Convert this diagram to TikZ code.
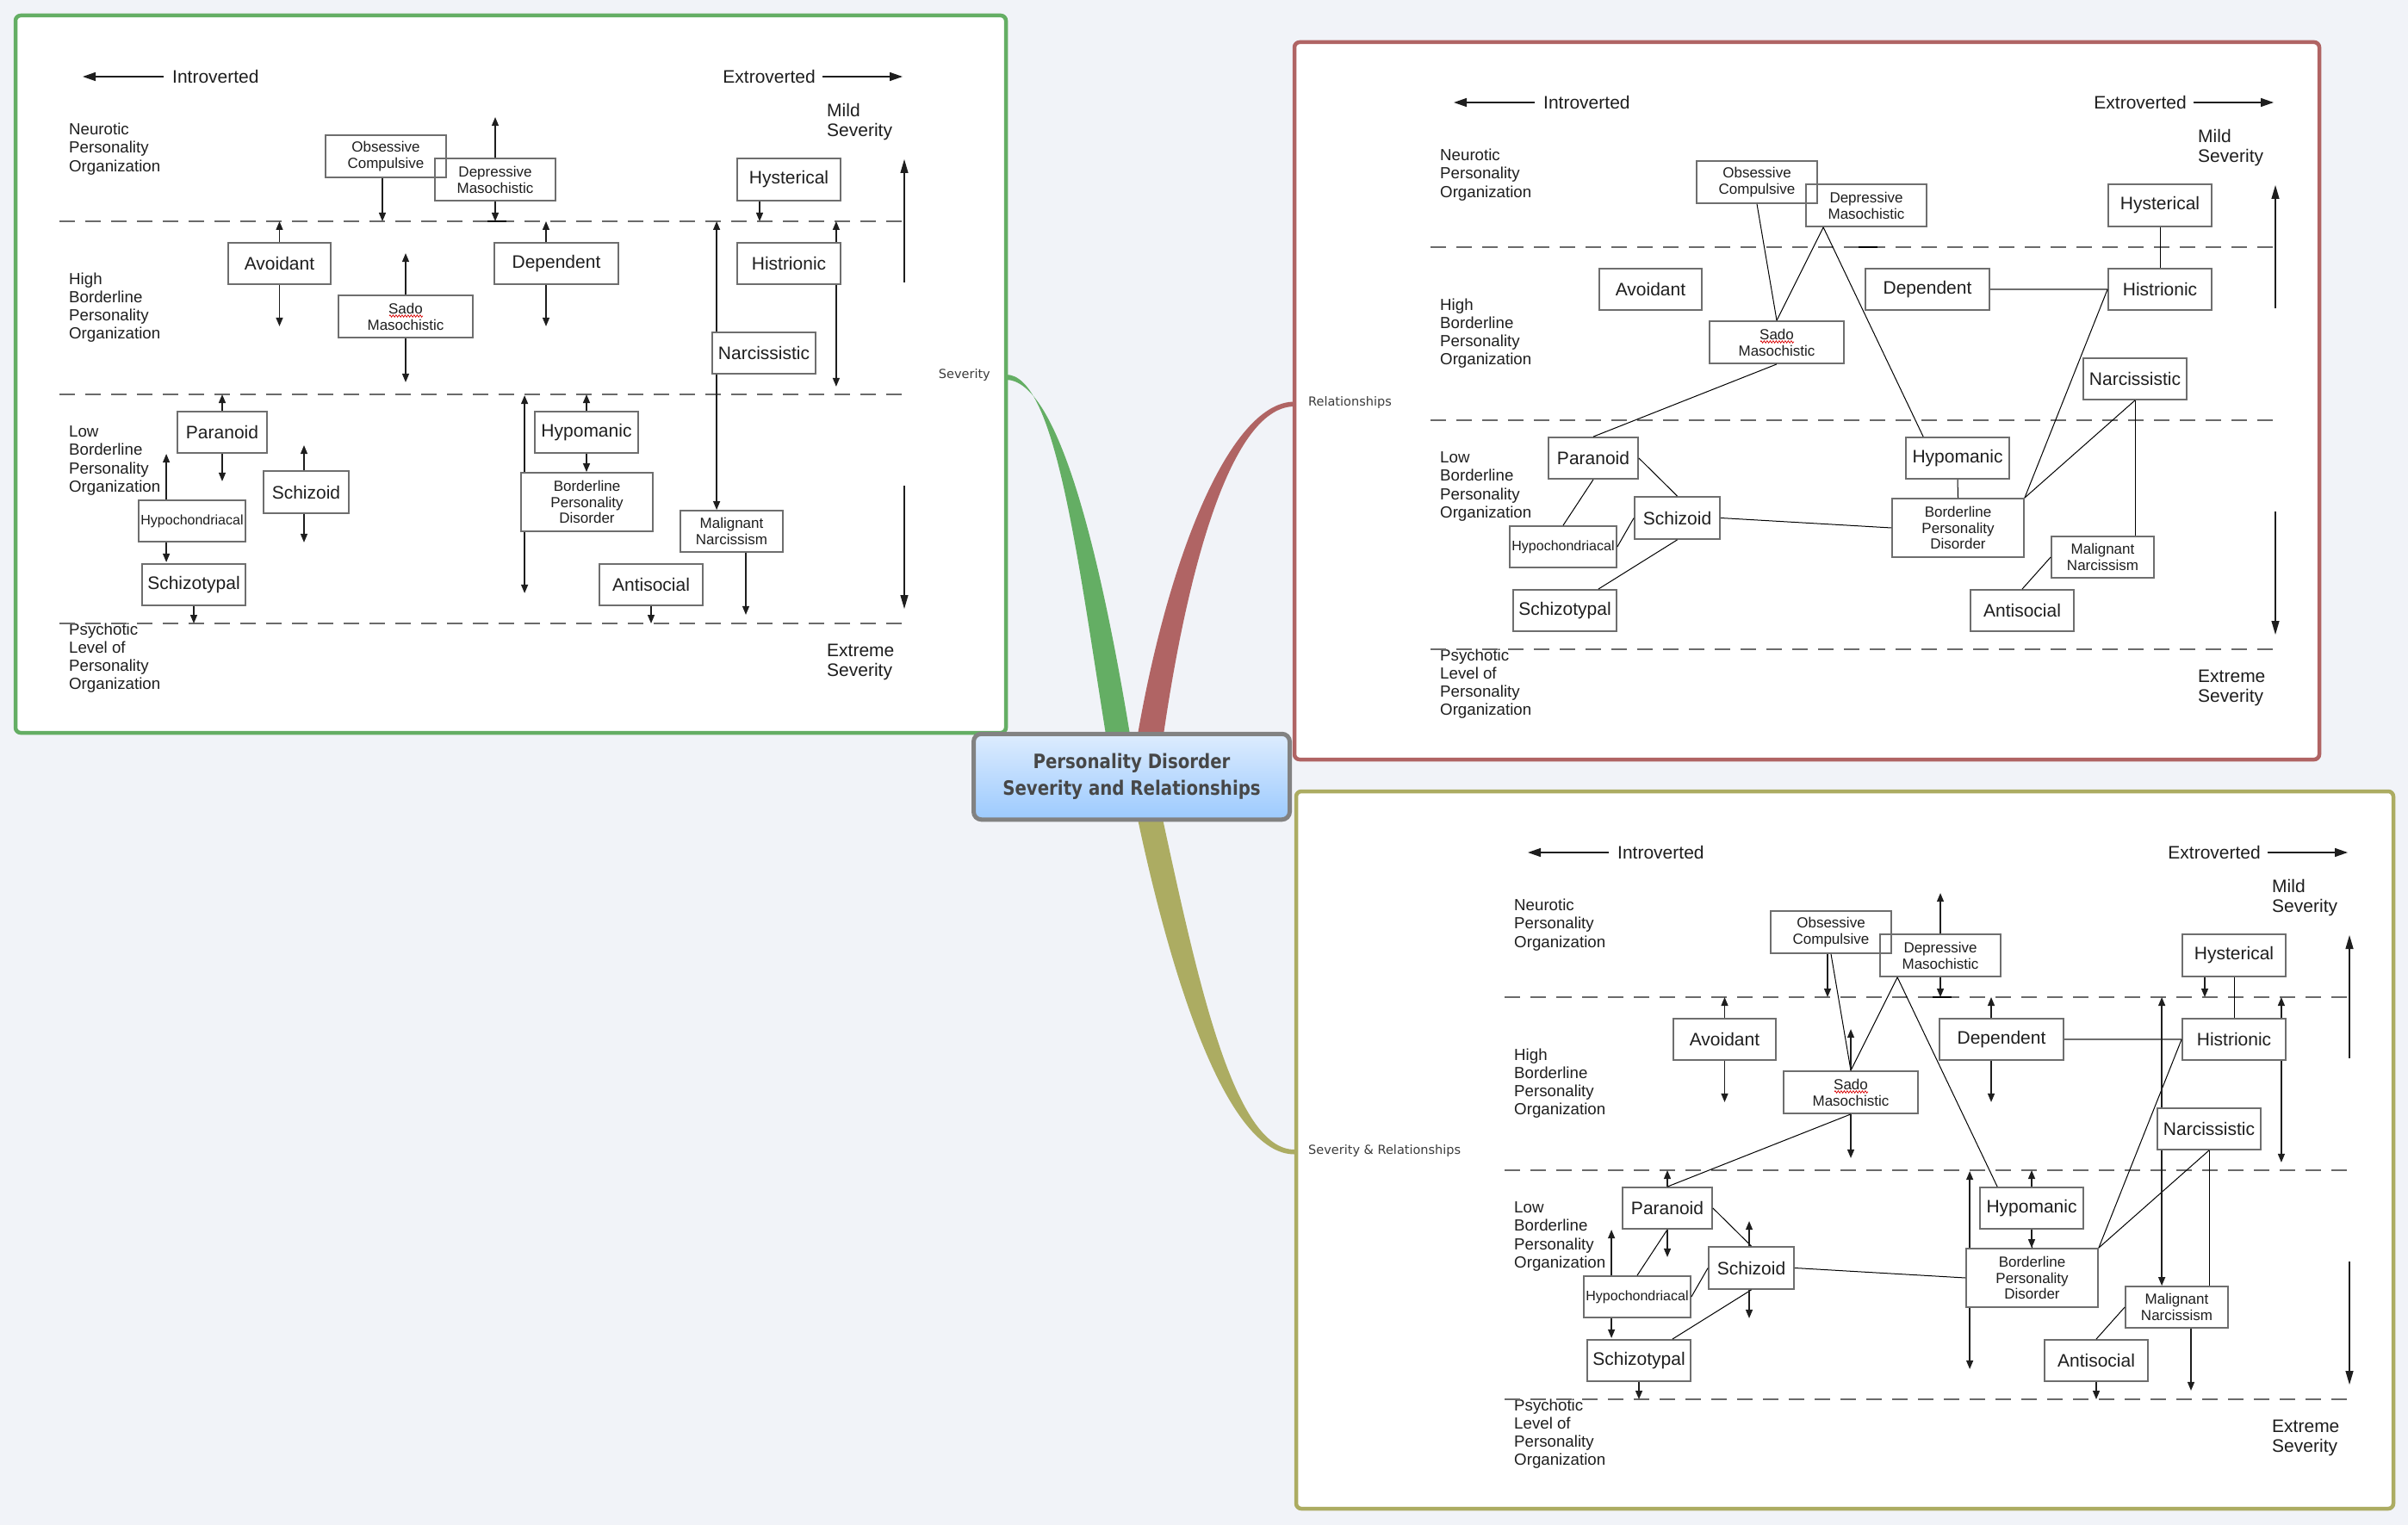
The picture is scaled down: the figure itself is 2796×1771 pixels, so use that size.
\documentclass[tikz,border=0pt]{standalone}
\usepackage{fontspec}
\setmainfont{Liberation Sans}
\newfontfamily\titlefont[FakeStretch=0.86]{DejaVu Sans}
\newfontfamily\branchfont{DejaVu Sans}
\usetikzlibrary{arrows.meta,decorations.pathmorphing}

\definecolor{bgc}{HTML}{F1F3F8}
\definecolor{pgreen}{HTML}{64AE64}
\definecolor{pred}{HTML}{B06464}
\definecolor{polive}{HTML}{ACAC62}
\definecolor{boxline}{HTML}{6E6E6E}
\definecolor{dashc}{HTML}{6A6A6A}
\definecolor{txt}{HTML}{1E1E1E}
\definecolor{titletxt}{HTML}{474747}
\definecolor{nodeborder}{HTML}{828282}
\definecolor{gradtop}{HTML}{DDECFE}
\definecolor{gradbot}{HTML}{9CCAFE}
\definecolor{lbl}{HTML}{3C3C3C}

\tikzset{
  pdbox/.style={draw=boxline, line width=1.8pt, inner sep=0pt, align=center, text=txt, font=\fontsize{21}{23}\selectfont},
  smallbox/.style={pdbox, font=\fontsize{17}{19}\selectfont},
  sidelabel/.style={anchor=west, align=left, inner sep=0pt, text=txt, font=\fontsize{18.7}{21.2}\selectfont},
  axislabel/.style={inner sep=0pt, text=txt, font=\fontsize{21}{23}\selectfont},
  sevarrow/.style={draw=txt, line width=1.3pt, -{Triangle[length=10pt,width=8pt]}},
  axarrow/.style={draw=txt, line width=1.5pt, -{Triangle[length=15pt,width=10pt]}},
  bigarrow/.style={draw=txt, line width=1.3pt, -{Triangle[length=16pt,width=9pt]}},
  relline/.style={draw=black, line width=1pt},
  thickrel/.style={draw=boxline, line width=1.8pt},
  dashline/.style={draw=dashc, line width=2.6pt, dash pattern=on 18pt off 12pt},
  panel/.style={fill=white, line width=4.5pt, rounded corners=6pt},
  branchlbl/.style={inner sep=0pt, text=lbl, font=\branchfont\fontsize{14.5}{16}\selectfont},
  sadoline/.style={draw=red!85!black, line width=0.7pt, decorate, decoration={zigzag, amplitude=1.3pt, segment length=3.5pt}},
}

\newcommand\pdcommon{%
  \node[axislabel, anchor=west] (intro) at (200,89) {Introverted};
  \node[axislabel, anchor=east] (extro) at (947,89) {Extroverted};
  \coordinate (introa) at (190,89);
  \coordinate (introb) at (96,89);
  \coordinate (extroa) at (955,89);
  \coordinate (extrob) at (1048,89);
  \draw[axarrow] (introa) -- (introb);
  \draw[axarrow] (extroa) -- (extrob);
  \node[axislabel, anchor=west, align=left] (mild) at (960,142) {Mild\\Severity};
  \node[axislabel, anchor=west, align=left] (extreme) at (960,769) {Extreme\\Severity};
  \node[sidelabel] (neur) at (80,173) {Neurotic\\Personality\\Organization};
  \node[sidelabel] (highbpo) at (80,357) {High\\Borderline\\Personality\\Organization};
  \node[sidelabel] (lowbpo) at (80,535) {Low\\Borderline\\Personality\\Organization};
  \node[sidelabel] (psy) at (80,764) {Psychotic\\Level of\\Personality\\Organization};
  \coordinate (d1a) at (69,257); \coordinate (d1b) at (1048,257);
  \coordinate (d2a) at (69,458); \coordinate (d2b) at (1048,458);
  \coordinate (d3a) at (69,724); \coordinate (d3b) at (1048,724);
  \draw[dashline] (d1a) -- (d1b);
  \draw[dashline] (d2a) -- (d2b);
  \draw[dashline] (d3a) -- (d3b);
  \coordinate (sevua) at (1050,328); \coordinate (sevub) at (1050,185);
  \coordinate (sevda) at (1050,564); \coordinate (sevdb) at (1050,707);
  \draw[bigarrow] (sevua) -- (sevub);
  \draw[bigarrow] (sevda) -- (sevdb);
  \coordinate (ticka) at (566,257); \coordinate (tickb) at (588,257);
  \draw[line width=1.6pt, draw=black] (ticka) -- (tickb);
  \node[smallbox, minimum width=140pt, minimum height=49pt] (oc) at (448,181.5) {Obsessive\\Compulsive};
  \node[smallbox, minimum width=140pt, minimum height=49pt] (dm) at (575,208.5) {Depressive\\Masochistic};
  \node[pdbox, minimum width=120pt, minimum height=49pt] (hys) at (916,208.5) {Hysterical};
  \node[pdbox, minimum width=119pt, minimum height=48pt] (avo) at (324.5,306) {Avoidant};
  \node[smallbox, minimum width=156pt, minimum height=49pt] (sm) at (471,367.5) {Sado\\Masochistic};
  \node[pdbox, minimum width=144pt, minimum height=48pt] (dep) at (646,306) {Dependent};
  \node[pdbox, minimum width=120pt, minimum height=48pt] (his) at (916,306) {Histrionic};
  \node[pdbox, minimum width=120pt, minimum height=48pt] (nar) at (887,410) {Narcissistic};
  \node[pdbox, minimum width=104pt, minimum height=48pt] (par) at (258,502) {Paranoid};
  \node[pdbox, minimum width=99pt, minimum height=49pt] (szd) at (355.5,571.5) {Schizoid};
  \node[pdbox, font=\fontsize{16}{18}\selectfont, minimum width=124pt, minimum height=48pt] (hyc) at (223,605) {Hypochondriacal};
  \node[pdbox, minimum width=120pt, minimum height=48pt] (szt) at (225,679) {Schizotypal};
  \node[pdbox, minimum width=120pt, minimum height=48pt] (hyp) at (681,502) {Hypomanic};
  \node[pdbox, font=\fontsize{17}{18.3}\selectfont, minimum width=153pt, minimum height=68pt] (bpd) at (681.5,583) {Borderline\\Personality\\Disorder};
  \node[smallbox, minimum width=119pt, minimum height=48pt] (mn) at (849.5,617) {Malignant\\Narcissism};
  \node[pdbox, minimum width=120pt, minimum height=48pt] (ant) at (756,679) {Antisocial};
  \coordinate (sadoa) at (452,367); \coordinate (sadob) at (491,367);
  \draw[sadoline] (sadoa) -- (sadob);
  \path (oc.south) ++(-4,0) coordinate (ocs);
  \path (hys.south) ++(-34,0) coordinate (hyss);
  \path (dep.north) ++(-12,0) coordinate (depn);
  \path (dep.south) ++(-12,0) coordinate (deps);
  \path (his.north east) ++(-6,0) coordinate (hisn);
  \path (his.south east) ++(-6,0) coordinate (hiss);
  \path (nar.north west) ++(6,0) coordinate (narn);
  \path (nar.south west) ++(6,0) coordinate (nars);
  \path (szd.north) ++(-2.5,0) coordinate (szdn);
  \path (szd.south) ++(-2.5,0) coordinate (szds);
  \path (hyc.north west) ++(33,0) coordinate (hycn);
  \path (hyc.south west) ++(33,0) coordinate (hycs);
  \path (bpd.north west) ++(5,0) coordinate (bpdn);
  \path (bpd.south west) ++(5,0) coordinate (bpds);
  \path (mn.south) ++(16.5,0) coordinate (mns);
  \path (dm.south west) ++(21,0) coordinate (dmp);
  \path (hyp.north west) ++(21,0) coordinate (hypp);
  \path (szt.north east) ++(-22,0) coordinate (sztp);
}

\newcommand\pdarrows{%
  \draw[sevarrow] (dm.north) -- ++(0,-47);
  \draw[sevarrow] (ocs) -- (ocs |- d1a);
  \draw[sevarrow] (dm.south) -- (dm.south |- d1a);
  \draw[sevarrow] (hyss) -- (hyss |- d1a);
  \draw[sevarrow] (avo.north) -- (avo.north |- d1a);
  \draw[sevarrow] (avo.south) -- ++(0,48);
  \draw[sevarrow] (sm.north) -- ++(0,-48);
  \draw[sevarrow] (sm.south) -- ++(0,51);
  \draw[sevarrow] (depn) -- (depn |- d1a);
  \draw[sevarrow] (deps) -- ++(0,48);
  \draw[sevarrow] (hisn) -- (hisn |- d1a);
  \draw[sevarrow] (hiss) -- ++(0,118);
  \draw[sevarrow] (narn) -- (narn |- d1a);
  \draw[sevarrow] (nars) -- (nars |- mn.north);
  \draw[sevarrow] (par.north) -- (par.north |- d2a);
  \draw[sevarrow] (par.south) -- ++(0,32);
  \draw[sevarrow] (szdn) -- ++(0,-29);
  \draw[sevarrow] (szds) -- ++(0,33);
  \draw[sevarrow] (hycn) -- ++(0,-53);
  \draw[sevarrow] (hycs) -- ++(0,23);
  \draw[sevarrow] (szt.south) -- (szt.south |- d3a);
  \draw[sevarrow] (hyp.north) -- (hyp.north |- d2a);
  \draw[sevarrow] (hyp.south) -- (hyp.south |- bpd.north);
  \draw[sevarrow] (bpdn) -- ++(0,-89);
  \draw[sevarrow] (bpds) -- ++(0,71);
  \draw[sevarrow] (mns) -- ++(0,72);
  \draw[sevarrow] (ant.south) -- (ant.south |- d3a);
}

\newcommand\pdlines{%
  \draw[relline] (oc.south) -- (sm.north);
  \draw[relline] (dmp) -- (sm.north);
  \draw[relline] (dmp) -- (hypp);
  \draw[relline] (hys.south) -- (his.north);
  \draw[thickrel] (dep.east) -- (his.west);
  \draw[relline] (his.west) -- (bpd.north east);
  \draw[relline] (nar.south) -- (bpd.north east);
  \draw[relline] (nar.south) -- (nar.south |- mn.north);
  \draw[relline] (sm.south) -- (par.north);
  \draw[relline] (par.east) -- (szd.north);
  \draw[relline] (par.south) -- (hyc.north);
  \draw[relline] (hyc.east) -- (szd.west);
  \draw[relline] (szd.south) -- (sztp);
  \draw[relline] (szd.east) -- (bpd.west);
  \draw[relline] (hyp.south) -- (bpd.north);
  \draw[relline] (mn.west) -- (ant.north);
}

\begin{document}
\begin{tikzpicture}[x=1pt,y=-1pt]
\fill[bgc] (0,0) rectangle (2796,1771);
\useasboundingbox (0,0) rectangle (2796,1771);

% branches
\fill[pgreen] (1168,435) .. controls (1225,435) and (1250,640) .. (1284,853)
  -- (1312,853) .. controls (1277,640) and (1228,441) .. (1168,441) -- cycle;
\fill[pred] (1503,466.5) .. controls (1430,466.5) and (1358,640) .. (1321,853)
  -- (1351,853) .. controls (1382,640) and (1434,472) .. (1503,472) -- cycle;
\fill[polive] (1321,951) .. controls (1361,1140) and (1425,1340.5) .. (1503,1340.5)
  -- (1503,1335) .. controls (1433,1335) and (1391,1140) .. (1350,951) -- cycle;

% panels
\draw[panel, draw=pgreen] (18,18) rectangle (1168,851);
\draw[panel, draw=pred] (1503,49) rectangle (2693,882);
\draw[panel, draw=polive] (1505,919) rectangle (2779,1752);

% branch labels
\node[branchlbl, anchor=east] (lsev) at (1150,435) {Severity};
\node[branchlbl, anchor=west] (lrel) at (1519,467) {Relationships};
\node[branchlbl, anchor=west] (lsevrel) at (1519,1336) {Severity \& Relationships};

\begin{scope}[name prefix=a-]
  \pdcommon
  \pdarrows
\end{scope}
\begin{scope}[shift={(1592,30)}, name prefix=b-]
  \pdcommon
  \pdlines
\end{scope}
\begin{scope}[shift={(1678,901)}, name prefix=c-]
  \pdcommon
  \pdlines
  \pdarrows
\end{scope}

% central topic
\node[draw=nodeborder, line width=5pt, rounded corners=9pt, top color=gradtop, bottom color=gradbot,
  minimum width=367pt, minimum height=99.5pt, inner sep=0pt, align=center, text=titletxt,
  font=\titlefont\bfseries\fontsize{23}{31}\selectfont] (center) at (1314,902)
  {Personality Disorder\\Severity and Relationships};
\end{tikzpicture}
\end{document}
